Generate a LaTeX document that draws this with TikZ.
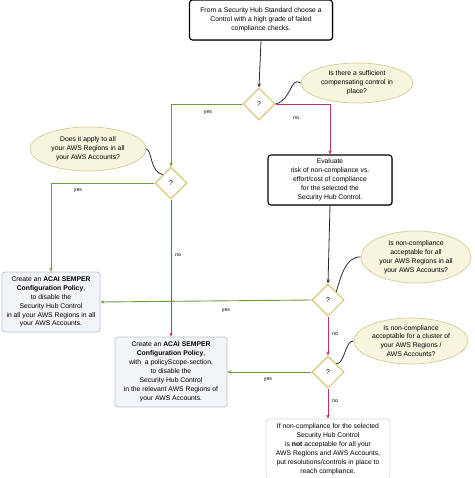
\documentclass[tikz,border=0pt]{standalone}
\usepackage{fontspec}
\setmainfont{Liberation Sans}
\usetikzlibrary{shapes.geometric,arrows.meta,shadows}
\definecolor{grn}{HTML}{6E9A3E}
\definecolor{pnk}{HTML}{C2336E}
\definecolor{gold}{HTML}{D9C77A}
\definecolor{callfill}{HTML}{F7F5DE}
\definecolor{callline}{HTML}{D3CC99}
\definecolor{boxline}{HTML}{BCC6D3}
\definecolor{boxfill}{HTML}{F1F4F8}
\definecolor{dk}{HTML}{2A2A2A}
\tikzset{
  every node/.style={font=\fontsize{6.8}{8.9}\selectfont, align=center, inner sep=0pt},
  blackbox/.style={draw=black, line width=1.1pt, rounded corners=3pt, fill=white,
    drop shadow={shadow xshift=1pt, shadow yshift=-1pt, opacity=0.4}},
  bluebox/.style={draw=boxline, line width=0.8pt, rounded corners=3pt, fill=boxfill},
  graybox/.style={draw=black!15, line width=0.8pt, rounded corners=3pt, fill=white},
  dia/.style={draw=gold, line width=1.1pt, fill=white, diamond, minimum width=32pt, minimum height=32pt},
  callout/.style={draw=callline, line width=0.7pt, fill=callfill, ellipse},
  gline/.style={draw=grn, line width=0.9pt, -{Stealth[length=4pt,width=3.5pt]}},
  pline/.style={draw=pnk, line width=0.9pt, -{Stealth[length=4pt,width=3.5pt]}},
  kline/.style={draw=dk, line width=0.8pt, -{Stealth[length=4pt,width=3.5pt]}},
  curve/.style={draw=dk, line width=0.8pt},
  lbl/.style={font=\fontsize{5.2}{6}\selectfont}
}
\begin{document}
\begin{tikzpicture}[x=1pt,y=-1pt]
\useasboundingbox (0,0) rectangle (474,478);
% boxes
\node[blackbox, minimum width=143pt, minimum height=40pt] (top) at (261,20) {From a Security Hub Standard choose a\\Control with a high grade of failed\\compliance checks.};
\node[blackbox, minimum width=124pt, minimum height=50pt] (eval) at (330,180) {Evaluate\\risk of non-compliance vs.\\effort/cost of compliance\\for the selected the\\Security Hub Control.};
\node[bluebox, minimum width=98pt, minimum height=60pt] (boxA) at (51,302) {Create an \textbf{ACAI SEMPER}\\\textbf{Configuration Policy},\\to disable the\\Security Hub Control\\in all your AWS Regions in all\\your AWS Accounts.};
\node[bluebox, minimum width=112pt, minimum height=70pt] (boxB) at (171,372) {Create an \textbf{ACAI SEMPER}\\\textbf{Configuration Policy},\\with\ \ a policyScope-section,\\to disable the\\Security Hub Control\\in the relevant AWS Regions of\\your AWS Accounts.};
\node[graybox, minimum width=124pt, minimum height=60pt] (boxC) at (328,449) {If non-compliance for the selected\\Security Hub Control\\is \textbf{not} acceptable for all your\\AWS Regions and AWS Accounts,\\put resolutions/controls in place to\\reach compliance.};
% diamonds
\node[dia] (d1) at (259,104) {?};
\node[dia] (d2) at (171,183) {?};
\node[dia] (d3) at (328,300) {?};
\node[dia] (d4) at (328,372) {?};
% callouts
\node[callout, minimum width=112pt, minimum height=40pt] (c1) at (357,83) {Is there a sufficient\\compensating control in\\place?};
\node[callout, minimum width=116pt, minimum height=44pt] (c2) at (88,149) {Does it apply to all\\your AWS Regions in all\\your AWS Accounts?};
\node[callout, minimum width=110pt, minimum height=52pt] (c3) at (416,257) {Is non-compliance\\acceptable for all\\your AWS Regions in all\\your AWS Accounts?};
\node[callout, minimum width=114pt, minimum height=46pt] (c4) at (411,341) {Is non-compliance\\acceptable for a cluster of\\your AWS Regions /\\AWS Accounts?};
% callout connectors
\draw[curve] (c1.west) .. controls (290,76) and (292,100) .. (d1.east);
\draw[curve] (c2.east) .. controls (152,150) and (150,172) .. (d2.north west);
\draw[curve] (c3.west) .. controls (345,256) and (340,280) .. (d3.north east);
\draw[curve] (c4.west) .. controls (345,340) and (345,364) .. (d4.north east);
% flow
\draw[kline] (top.south) -- (d1.north);
\draw[gline] (d1.west) -| (d2.north);
\node[lbl] at (208,113) {yes};
\draw[pline] (d1.east) -| (eval.north);
\node[lbl] at (296,118) {no};
\draw[kline] (eval.south) -- (d3.north);
\draw[gline] (d2.west) -| (boxA.north);
\node[lbl] at (78,191) {yes};
\draw[pline] (d2.south) -- (boxB.north);
\node[lbl] at (178,255) {no};
\draw[gline] (d3.west) -- (boxA.east);
\node[lbl] at (226,311) {yes};
\draw[pline] (d3.south) -- (d4.north);
\node[lbl] at (335,334) {no};
\draw[gline] (d4.west) -- (boxB.east);
\node[lbl] at (268,380) {yes};
\draw[pline] (d4.south) -- (boxC.north);
\node[lbl] at (335,401) {no};
\end{tikzpicture}
\end{document}
